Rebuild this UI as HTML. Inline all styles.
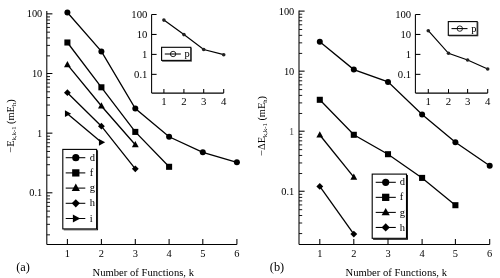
<!DOCTYPE html>
<html><head><meta charset="utf-8"><title>Figure</title>
<style>
html,body{margin:0;padding:0;background:#fff;}
body{width:500px;height:278px;overflow:hidden;}
svg{display:block;font-family:"Liberation Serif","DejaVu Serif",serif;fill:#000;}
</style></head><body>
<svg width="500" height="278" viewBox="0 0 500 278">
<rect width="500" height="278" fill="#fff"/>
<line x1="46.80" y1="11.00" x2="46.80" y2="244.40" stroke="#000" stroke-width="1.05"/>
<line x1="46.80" y1="13.85" x2="52.40" y2="13.85" stroke="#000" stroke-width="1.05"/>
<text x="42.30" y="17.28" font-size="10.4" text-anchor="end" >100</text>
<line x1="46.80" y1="55.89" x2="50.00" y2="55.89" stroke="#000" stroke-width="0.9"/>
<line x1="46.80" y1="45.39" x2="50.00" y2="45.39" stroke="#000" stroke-width="0.9"/>
<line x1="46.80" y1="37.94" x2="50.00" y2="37.94" stroke="#000" stroke-width="0.9"/>
<line x1="46.80" y1="32.16" x2="50.00" y2="32.16" stroke="#000" stroke-width="0.9"/>
<line x1="46.80" y1="27.43" x2="50.00" y2="27.43" stroke="#000" stroke-width="0.9"/>
<line x1="46.80" y1="23.44" x2="50.00" y2="23.44" stroke="#000" stroke-width="0.9"/>
<line x1="46.80" y1="19.98" x2="50.00" y2="19.98" stroke="#000" stroke-width="0.9"/>
<line x1="46.80" y1="16.93" x2="50.00" y2="16.93" stroke="#000" stroke-width="0.9"/>
<line x1="46.80" y1="73.50" x2="52.40" y2="73.50" stroke="#000" stroke-width="1.05"/>
<text x="42.30" y="76.93" font-size="10.4" text-anchor="end" >10</text>
<line x1="46.80" y1="115.54" x2="50.00" y2="115.54" stroke="#000" stroke-width="0.9"/>
<line x1="46.80" y1="105.04" x2="50.00" y2="105.04" stroke="#000" stroke-width="0.9"/>
<line x1="46.80" y1="97.59" x2="50.00" y2="97.59" stroke="#000" stroke-width="0.9"/>
<line x1="46.80" y1="91.81" x2="50.00" y2="91.81" stroke="#000" stroke-width="0.9"/>
<line x1="46.80" y1="87.08" x2="50.00" y2="87.08" stroke="#000" stroke-width="0.9"/>
<line x1="46.80" y1="83.09" x2="50.00" y2="83.09" stroke="#000" stroke-width="0.9"/>
<line x1="46.80" y1="79.63" x2="50.00" y2="79.63" stroke="#000" stroke-width="0.9"/>
<line x1="46.80" y1="76.58" x2="50.00" y2="76.58" stroke="#000" stroke-width="0.9"/>
<line x1="46.80" y1="133.15" x2="52.40" y2="133.15" stroke="#000" stroke-width="1.05"/>
<text x="42.30" y="136.58" font-size="10.4" text-anchor="end" >1</text>
<line x1="46.80" y1="175.19" x2="50.00" y2="175.19" stroke="#000" stroke-width="0.9"/>
<line x1="46.80" y1="164.69" x2="50.00" y2="164.69" stroke="#000" stroke-width="0.9"/>
<line x1="46.80" y1="157.24" x2="50.00" y2="157.24" stroke="#000" stroke-width="0.9"/>
<line x1="46.80" y1="151.46" x2="50.00" y2="151.46" stroke="#000" stroke-width="0.9"/>
<line x1="46.80" y1="146.73" x2="50.00" y2="146.73" stroke="#000" stroke-width="0.9"/>
<line x1="46.80" y1="142.74" x2="50.00" y2="142.74" stroke="#000" stroke-width="0.9"/>
<line x1="46.80" y1="139.28" x2="50.00" y2="139.28" stroke="#000" stroke-width="0.9"/>
<line x1="46.80" y1="136.23" x2="50.00" y2="136.23" stroke="#000" stroke-width="0.9"/>
<line x1="46.80" y1="192.80" x2="52.40" y2="192.80" stroke="#000" stroke-width="1.05"/>
<text x="42.30" y="196.23" font-size="10.4" text-anchor="end" >0.1</text>
<line x1="46.80" y1="234.84" x2="50.00" y2="234.84" stroke="#000" stroke-width="0.9"/>
<line x1="46.80" y1="224.34" x2="50.00" y2="224.34" stroke="#000" stroke-width="0.9"/>
<line x1="46.80" y1="216.89" x2="50.00" y2="216.89" stroke="#000" stroke-width="0.9"/>
<line x1="46.80" y1="211.11" x2="50.00" y2="211.11" stroke="#000" stroke-width="0.9"/>
<line x1="46.80" y1="206.38" x2="50.00" y2="206.38" stroke="#000" stroke-width="0.9"/>
<line x1="46.80" y1="202.39" x2="50.00" y2="202.39" stroke="#000" stroke-width="0.9"/>
<line x1="46.80" y1="198.93" x2="50.00" y2="198.93" stroke="#000" stroke-width="0.9"/>
<line x1="46.80" y1="195.88" x2="50.00" y2="195.88" stroke="#000" stroke-width="0.9"/>
<line x1="46.80" y1="244.40" x2="236.90" y2="244.40" stroke="#000" stroke-width="1.05"/>
<line x1="67.40" y1="244.40" x2="67.40" y2="239.00" stroke="#000" stroke-width="1.05"/>
<text x="67.40" y="257.40" font-size="10.4" text-anchor="middle" >1</text>
<line x1="101.40" y1="244.40" x2="101.40" y2="239.00" stroke="#000" stroke-width="1.05"/>
<text x="101.40" y="257.40" font-size="10.4" text-anchor="middle" >2</text>
<line x1="135.30" y1="244.40" x2="135.30" y2="239.00" stroke="#000" stroke-width="1.05"/>
<text x="135.30" y="257.40" font-size="10.4" text-anchor="middle" >3</text>
<line x1="169.10" y1="244.40" x2="169.10" y2="239.00" stroke="#000" stroke-width="1.05"/>
<text x="169.10" y="257.40" font-size="10.4" text-anchor="middle" >4</text>
<line x1="202.80" y1="244.40" x2="202.80" y2="239.00" stroke="#000" stroke-width="1.05"/>
<text x="202.80" y="257.40" font-size="10.4" text-anchor="middle" >5</text>
<line x1="236.90" y1="244.40" x2="236.90" y2="239.00" stroke="#000" stroke-width="1.05"/>
<text x="236.90" y="257.40" font-size="10.4" text-anchor="middle" >6</text>
<text x="92.60" y="275.50" font-size="10.62" text-anchor="start" >Number of Functions, k</text>
<text x="23.00" y="271.30" font-size="12.3" text-anchor="middle" >(a)</text>
<polyline points="67.40,12.50 101.40,51.40 135.30,108.50 169.10,136.80 202.80,152.30 236.90,162.30" fill="none" stroke="#000" stroke-width="1.3"/>
<circle cx="67.40" cy="12.50" r="3.00" fill="#000"/>
<circle cx="101.40" cy="51.40" r="3.00" fill="#000"/>
<circle cx="135.30" cy="108.50" r="3.00" fill="#000"/>
<circle cx="169.10" cy="136.80" r="3.00" fill="#000"/>
<circle cx="202.80" cy="152.30" r="3.00" fill="#000"/>
<circle cx="236.90" cy="162.30" r="3.00" fill="#000"/>
<polyline points="67.40,42.50 101.40,87.30 135.30,131.90 169.10,166.80" fill="none" stroke="#000" stroke-width="1.3"/>
<rect x="64.37" y="39.47" width="6.06" height="6.06" fill="#000"/>
<rect x="98.37" y="84.27" width="6.06" height="6.06" fill="#000"/>
<rect x="132.27" y="128.87" width="6.06" height="6.06" fill="#000"/>
<rect x="166.07" y="163.77" width="6.06" height="6.06" fill="#000"/>
<polyline points="67.40,64.70 101.40,106.00 135.30,144.80" fill="none" stroke="#000" stroke-width="1.3"/>
<polygon points="67.40,60.94 63.98,67.16 70.82,67.16" fill="#000"/>
<polygon points="101.40,102.24 97.98,108.46 104.82,108.46" fill="#000"/>
<polygon points="135.30,141.04 131.88,147.26 138.72,147.26" fill="#000"/>
<polyline points="67.40,92.70 101.40,126.20 135.30,168.80" fill="none" stroke="#000" stroke-width="1.3"/>
<polygon points="67.40,89.28 70.82,92.70 67.40,96.12 63.98,92.70" fill="#000"/>
<polygon points="101.40,122.78 104.82,126.20 101.40,129.62 97.98,126.20" fill="#000"/>
<polygon points="135.30,165.38 138.72,168.80 135.30,172.22 131.88,168.80" fill="#000"/>
<polyline points="67.40,113.70 101.40,142.30" fill="none" stroke="#000" stroke-width="1.3"/>
<polygon points="71.16,113.70 64.94,110.28 64.94,117.12" fill="#000"/>
<polygon points="105.16,142.30 98.94,138.88 98.94,145.72" fill="#000"/>
<rect x="62.80" y="149.40" width="33.80" height="79.50" fill="#fff" stroke="#000" stroke-width="1.1"/>
<path d="M97.15,150.30 V230.35 H63.70 V229.45 H97.15 Z M97.15,150.30 H98.05 V230.35 H97.15 Z" fill="#000"/>
<line x1="65.70" y1="157.70" x2="85.30" y2="157.70" stroke="#000" stroke-width="1.05"/>
<circle cx="75.80" cy="157.70" r="3.60" fill="#000"/>
<text x="89.70" y="160.80" font-size="10.5" text-anchor="start" >d</text>
<line x1="65.70" y1="172.90" x2="85.30" y2="172.90" stroke="#000" stroke-width="1.05"/>
<rect x="72.16" y="169.26" width="7.27" height="7.27" fill="#000"/>
<text x="89.70" y="176.00" font-size="10.5" text-anchor="start" >f</text>
<line x1="65.70" y1="188.10" x2="85.30" y2="188.10" stroke="#000" stroke-width="1.05"/>
<polygon points="75.80,183.59 71.70,191.05 79.90,191.05" fill="#000"/>
<text x="89.70" y="191.20" font-size="10.5" text-anchor="start" >g</text>
<line x1="65.70" y1="203.30" x2="85.30" y2="203.30" stroke="#000" stroke-width="1.05"/>
<polygon points="75.80,199.20 79.90,203.30 75.80,207.40 71.70,203.30" fill="#000"/>
<text x="89.70" y="206.40" font-size="10.5" text-anchor="start" >h</text>
<line x1="65.70" y1="218.50" x2="85.30" y2="218.50" stroke="#000" stroke-width="1.05"/>
<polygon points="80.31,218.50 72.85,214.40 72.85,222.60" fill="#000"/>
<text x="89.70" y="221.60" font-size="10.5" text-anchor="start" >i</text>
<text transform="translate(13.5,125.9) rotate(-90)" font-size="10.4" text-anchor="middle">−E<tspan font-size="6.6" dy="2">k,k-1</tspan><tspan dy="-2"> (mE</tspan><tspan font-size="6.6" dy="2">h</tspan><tspan dy="-2">)</tspan></text>
<line x1="151.60" y1="14.50" x2="151.60" y2="93.10" stroke="#000" stroke-width="1.05"/>
<line x1="151.60" y1="14.50" x2="156.60" y2="14.50" stroke="#000" stroke-width="1.05"/>
<text x="147.40" y="18.00" font-size="10.7" text-anchor="end" >100</text>
<line x1="151.60" y1="34.45" x2="156.60" y2="34.45" stroke="#000" stroke-width="1.05"/>
<text x="147.40" y="37.95" font-size="10.7" text-anchor="end" >10</text>
<line x1="151.60" y1="54.40" x2="156.60" y2="54.40" stroke="#000" stroke-width="1.05"/>
<text x="147.40" y="57.90" font-size="10.7" text-anchor="end" >1</text>
<line x1="151.60" y1="74.35" x2="156.60" y2="74.35" stroke="#000" stroke-width="1.05"/>
<text x="147.40" y="77.85" font-size="10.7" text-anchor="end" >0.1</text>
<line x1="151.60" y1="93.10" x2="223.70" y2="93.10" stroke="#000" stroke-width="1.05"/>
<line x1="163.90" y1="93.10" x2="163.90" y2="89.10" stroke="#000" stroke-width="1.05"/>
<text x="163.90" y="104.90" font-size="10.8" text-anchor="middle" >1</text>
<line x1="183.90" y1="93.10" x2="183.90" y2="89.10" stroke="#000" stroke-width="1.05"/>
<text x="183.90" y="104.90" font-size="10.8" text-anchor="middle" >2</text>
<line x1="203.70" y1="93.10" x2="203.70" y2="89.10" stroke="#000" stroke-width="1.05"/>
<text x="203.70" y="104.90" font-size="10.8" text-anchor="middle" >3</text>
<line x1="223.70" y1="93.10" x2="223.70" y2="89.10" stroke="#000" stroke-width="1.05"/>
<text x="223.70" y="104.90" font-size="10.8" text-anchor="middle" >4</text>
<polyline points="163.90,20.10 183.90,34.60 203.70,49.50 223.70,54.70" fill="none" stroke="#000" stroke-width="1.2"/>
<circle cx="163.90" cy="20.10" r="1.80" fill="#222"/>
<circle cx="183.90" cy="34.60" r="1.80" fill="#222"/>
<circle cx="203.70" cy="49.50" r="1.80" fill="#222"/>
<circle cx="223.70" cy="54.70" r="1.80" fill="#222"/>
<rect x="161.60" y="47.30" width="29.20" height="13.10" fill="#fff" stroke="#000" stroke-width="1.1"/>
<path d="M191.35,47.80 V61.45 H162.10 V60.95 H191.35 Z M191.35,47.80 H191.85 V61.45 H191.35 Z" fill="#000"/>
<line x1="164.80" y1="54.00" x2="180.80" y2="54.00" stroke="#000" stroke-width="1.05"/>
<circle cx="173.10" cy="54.00" r="2.7" fill="none" stroke="#000" stroke-width="0.85"/>
<text x="184.60" y="56.90" font-size="10.4" text-anchor="start" >p</text>
<line x1="299.00" y1="10.50" x2="299.00" y2="244.40" stroke="#000" stroke-width="1.05"/>
<line x1="299.00" y1="11.10" x2="304.60" y2="11.10" stroke="#000" stroke-width="1.05"/>
<text x="294.30" y="14.53" font-size="10.4" text-anchor="end" >100</text>
<line x1="299.00" y1="53.42" x2="302.20" y2="53.42" stroke="#000" stroke-width="0.9"/>
<line x1="299.00" y1="42.85" x2="302.20" y2="42.85" stroke="#000" stroke-width="0.9"/>
<line x1="299.00" y1="35.35" x2="302.20" y2="35.35" stroke="#000" stroke-width="0.9"/>
<line x1="299.00" y1="29.53" x2="302.20" y2="29.53" stroke="#000" stroke-width="0.9"/>
<line x1="299.00" y1="24.77" x2="302.20" y2="24.77" stroke="#000" stroke-width="0.9"/>
<line x1="299.00" y1="20.75" x2="302.20" y2="20.75" stroke="#000" stroke-width="0.9"/>
<line x1="299.00" y1="17.27" x2="302.20" y2="17.27" stroke="#000" stroke-width="0.9"/>
<line x1="299.00" y1="14.20" x2="302.20" y2="14.20" stroke="#000" stroke-width="0.9"/>
<line x1="299.00" y1="71.15" x2="304.60" y2="71.15" stroke="#000" stroke-width="1.05"/>
<text x="294.30" y="74.58" font-size="10.4" text-anchor="end" >10</text>
<line x1="299.00" y1="113.47" x2="302.20" y2="113.47" stroke="#000" stroke-width="0.9"/>
<line x1="299.00" y1="102.90" x2="302.20" y2="102.90" stroke="#000" stroke-width="0.9"/>
<line x1="299.00" y1="95.40" x2="302.20" y2="95.40" stroke="#000" stroke-width="0.9"/>
<line x1="299.00" y1="89.58" x2="302.20" y2="89.58" stroke="#000" stroke-width="0.9"/>
<line x1="299.00" y1="84.82" x2="302.20" y2="84.82" stroke="#000" stroke-width="0.9"/>
<line x1="299.00" y1="80.80" x2="302.20" y2="80.80" stroke="#000" stroke-width="0.9"/>
<line x1="299.00" y1="77.32" x2="302.20" y2="77.32" stroke="#000" stroke-width="0.9"/>
<line x1="299.00" y1="74.25" x2="302.20" y2="74.25" stroke="#000" stroke-width="0.9"/>
<line x1="299.00" y1="131.20" x2="304.60" y2="131.20" stroke="#000" stroke-width="1.05"/>
<text x="294.30" y="134.63" font-size="10.4" text-anchor="end" fill="#555">1</text>
<line x1="299.00" y1="173.52" x2="302.20" y2="173.52" stroke="#000" stroke-width="0.9"/>
<line x1="299.00" y1="162.95" x2="302.20" y2="162.95" stroke="#000" stroke-width="0.9"/>
<line x1="299.00" y1="155.45" x2="302.20" y2="155.45" stroke="#000" stroke-width="0.9"/>
<line x1="299.00" y1="149.63" x2="302.20" y2="149.63" stroke="#000" stroke-width="0.9"/>
<line x1="299.00" y1="144.87" x2="302.20" y2="144.87" stroke="#000" stroke-width="0.9"/>
<line x1="299.00" y1="140.85" x2="302.20" y2="140.85" stroke="#000" stroke-width="0.9"/>
<line x1="299.00" y1="137.37" x2="302.20" y2="137.37" stroke="#000" stroke-width="0.9"/>
<line x1="299.00" y1="134.30" x2="302.20" y2="134.30" stroke="#000" stroke-width="0.9"/>
<line x1="299.00" y1="191.25" x2="304.60" y2="191.25" stroke="#000" stroke-width="1.05"/>
<text x="294.30" y="194.68" font-size="10.4" text-anchor="end" >0.1</text>
<line x1="299.00" y1="233.57" x2="302.20" y2="233.57" stroke="#000" stroke-width="0.9"/>
<line x1="299.00" y1="223.00" x2="302.20" y2="223.00" stroke="#000" stroke-width="0.9"/>
<line x1="299.00" y1="215.50" x2="302.20" y2="215.50" stroke="#000" stroke-width="0.9"/>
<line x1="299.00" y1="209.68" x2="302.20" y2="209.68" stroke="#000" stroke-width="0.9"/>
<line x1="299.00" y1="204.92" x2="302.20" y2="204.92" stroke="#000" stroke-width="0.9"/>
<line x1="299.00" y1="200.90" x2="302.20" y2="200.90" stroke="#000" stroke-width="0.9"/>
<line x1="299.00" y1="197.42" x2="302.20" y2="197.42" stroke="#000" stroke-width="0.9"/>
<line x1="299.00" y1="194.35" x2="302.20" y2="194.35" stroke="#000" stroke-width="0.9"/>
<line x1="299.00" y1="244.40" x2="489.70" y2="244.40" stroke="#000" stroke-width="1.05"/>
<line x1="319.80" y1="244.40" x2="319.80" y2="239.00" stroke="#000" stroke-width="1.05"/>
<text x="319.80" y="257.40" font-size="10.4" text-anchor="middle" >1</text>
<line x1="353.80" y1="244.40" x2="353.80" y2="239.00" stroke="#000" stroke-width="1.05"/>
<text x="353.80" y="257.40" font-size="10.4" text-anchor="middle" >2</text>
<line x1="388.00" y1="244.40" x2="388.00" y2="239.00" stroke="#000" stroke-width="1.05"/>
<text x="388.00" y="257.40" font-size="10.4" text-anchor="middle" >3</text>
<line x1="422.10" y1="244.40" x2="422.10" y2="239.00" stroke="#000" stroke-width="1.05"/>
<text x="422.10" y="257.40" font-size="10.4" text-anchor="middle" >4</text>
<line x1="455.40" y1="244.40" x2="455.40" y2="239.00" stroke="#000" stroke-width="1.05"/>
<text x="455.40" y="257.40" font-size="10.4" text-anchor="middle" >5</text>
<line x1="489.70" y1="244.40" x2="489.70" y2="239.00" stroke="#000" stroke-width="1.05"/>
<text x="489.70" y="257.40" font-size="10.4" text-anchor="middle" >6</text>
<text x="345.60" y="275.50" font-size="10.62" text-anchor="start" >Number of Functions, k</text>
<text x="277.00" y="271.30" font-size="12.3" text-anchor="middle" >(b)</text>
<polyline points="319.80,41.70 353.80,69.60 388.00,81.90 422.10,114.50 455.40,142.20 489.70,165.70" fill="none" stroke="#000" stroke-width="1.3"/>
<circle cx="319.80" cy="41.70" r="3.00" fill="#000"/>
<circle cx="353.80" cy="69.60" r="3.00" fill="#000"/>
<circle cx="388.00" cy="81.90" r="3.00" fill="#000"/>
<circle cx="422.10" cy="114.50" r="3.00" fill="#000"/>
<circle cx="455.40" cy="142.20" r="3.00" fill="#000"/>
<circle cx="489.70" cy="165.70" r="3.00" fill="#000"/>
<polyline points="319.80,99.80 353.80,134.80 388.00,154.20 422.10,177.90 455.40,205.20" fill="none" stroke="#000" stroke-width="1.3"/>
<rect x="316.77" y="96.77" width="6.06" height="6.06" fill="#000"/>
<rect x="350.77" y="131.77" width="6.06" height="6.06" fill="#000"/>
<rect x="384.97" y="151.17" width="6.06" height="6.06" fill="#000"/>
<rect x="419.07" y="174.87" width="6.06" height="6.06" fill="#000"/>
<rect x="452.37" y="202.17" width="6.06" height="6.06" fill="#000"/>
<polyline points="319.80,135.00 353.80,177.20" fill="none" stroke="#000" stroke-width="1.3"/>
<polygon points="319.80,131.24 316.38,137.46 323.22,137.46" fill="#000"/>
<polygon points="353.80,173.44 350.38,179.66 357.22,179.66" fill="#000"/>
<polyline points="319.80,186.40 353.80,234.10" fill="none" stroke="#000" stroke-width="1.3"/>
<polygon points="319.80,182.98 323.22,186.40 319.80,189.82 316.38,186.40" fill="#000"/>
<polygon points="353.80,230.68 357.22,234.10 353.80,237.52 350.38,234.10" fill="#000"/>
<rect x="372.20" y="174.10" width="34.30" height="64.20" fill="#fff" stroke="#000" stroke-width="1.1"/>
<path d="M407.05,175.00 V239.75 H373.10 V238.85 H407.05 Z M407.05,175.00 H407.95 V239.75 H407.05 Z" fill="#000"/>
<line x1="375.70" y1="182.30" x2="395.80" y2="182.30" stroke="#000" stroke-width="1.05"/>
<circle cx="385.70" cy="182.30" r="3.60" fill="#000"/>
<text x="399.80" y="185.40" font-size="10.5" text-anchor="start" >d</text>
<line x1="375.70" y1="197.35" x2="395.80" y2="197.35" stroke="#000" stroke-width="1.05"/>
<rect x="382.06" y="193.71" width="7.27" height="7.27" fill="#000"/>
<text x="399.80" y="200.45" font-size="10.5" text-anchor="start" >f</text>
<line x1="375.70" y1="212.40" x2="395.80" y2="212.40" stroke="#000" stroke-width="1.05"/>
<polygon points="385.70,207.89 381.60,215.35 389.80,215.35" fill="#000"/>
<text x="399.80" y="215.50" font-size="10.5" text-anchor="start" >g</text>
<line x1="375.70" y1="227.45" x2="395.80" y2="227.45" stroke="#000" stroke-width="1.05"/>
<polygon points="385.70,223.35 389.80,227.45 385.70,231.55 381.60,227.45" fill="#000"/>
<text x="399.80" y="230.55" font-size="10.5" text-anchor="start" >h</text>
<text transform="translate(265.2,125.9) rotate(-90)" font-size="10.4" text-anchor="middle">−ΔE<tspan font-size="6.6" dy="2">k,k-1</tspan><tspan dy="-2"> (mE</tspan><tspan font-size="6.6" dy="2">h</tspan><tspan dy="-2">)</tspan></text>
<line x1="415.40" y1="14.50" x2="415.40" y2="93.10" stroke="#000" stroke-width="1.05"/>
<line x1="415.40" y1="14.50" x2="420.40" y2="14.50" stroke="#000" stroke-width="1.05"/>
<text x="411.20" y="18.00" font-size="10.7" text-anchor="end" >100</text>
<line x1="415.40" y1="34.45" x2="420.40" y2="34.45" stroke="#000" stroke-width="1.05"/>
<text x="411.20" y="37.95" font-size="10.7" text-anchor="end" >10</text>
<line x1="415.40" y1="54.40" x2="420.40" y2="54.40" stroke="#000" stroke-width="1.05"/>
<text x="411.20" y="57.90" font-size="10.7" text-anchor="end" >1</text>
<line x1="415.40" y1="74.35" x2="420.40" y2="74.35" stroke="#000" stroke-width="1.05"/>
<text x="411.20" y="77.85" font-size="10.7" text-anchor="end" >0.1</text>
<line x1="415.40" y1="93.10" x2="487.70" y2="93.10" stroke="#000" stroke-width="1.05"/>
<line x1="428.30" y1="93.10" x2="428.30" y2="89.10" stroke="#000" stroke-width="1.05"/>
<text x="428.30" y="104.90" font-size="10.8" text-anchor="middle" >1</text>
<line x1="448.50" y1="93.10" x2="448.50" y2="89.10" stroke="#000" stroke-width="1.05"/>
<text x="448.50" y="104.90" font-size="10.8" text-anchor="middle" >2</text>
<line x1="467.60" y1="93.10" x2="467.60" y2="89.10" stroke="#000" stroke-width="1.05"/>
<text x="467.60" y="104.90" font-size="10.8" text-anchor="middle" >3</text>
<line x1="487.70" y1="93.10" x2="487.70" y2="89.10" stroke="#000" stroke-width="1.05"/>
<text x="487.70" y="104.90" font-size="10.8" text-anchor="middle" >4</text>
<polyline points="428.30,30.70 448.50,53.30 467.60,60.00 487.70,69.00" fill="none" stroke="#000" stroke-width="1.2"/>
<circle cx="428.30" cy="30.70" r="1.80" fill="#222"/>
<circle cx="448.50" cy="53.30" r="1.80" fill="#222"/>
<circle cx="467.60" cy="60.00" r="1.80" fill="#222"/>
<circle cx="487.70" cy="69.00" r="1.80" fill="#222"/>
<rect x="448.30" y="21.60" width="28.90" height="13.70" fill="#fff" stroke="#000" stroke-width="1.1"/>
<path d="M477.75,22.10 V36.35 H448.80 V35.85 H477.75 Z M477.75,22.10 H478.25 V36.35 H477.75 Z" fill="#000"/>
<line x1="451.50" y1="28.60" x2="467.50" y2="28.60" stroke="#000" stroke-width="1.05"/>
<circle cx="459.80" cy="28.60" r="2.7" fill="none" stroke="#000" stroke-width="0.85"/>
<text x="471.30" y="31.50" font-size="10.4" text-anchor="start" >p</text>
</svg>
</body></html>
